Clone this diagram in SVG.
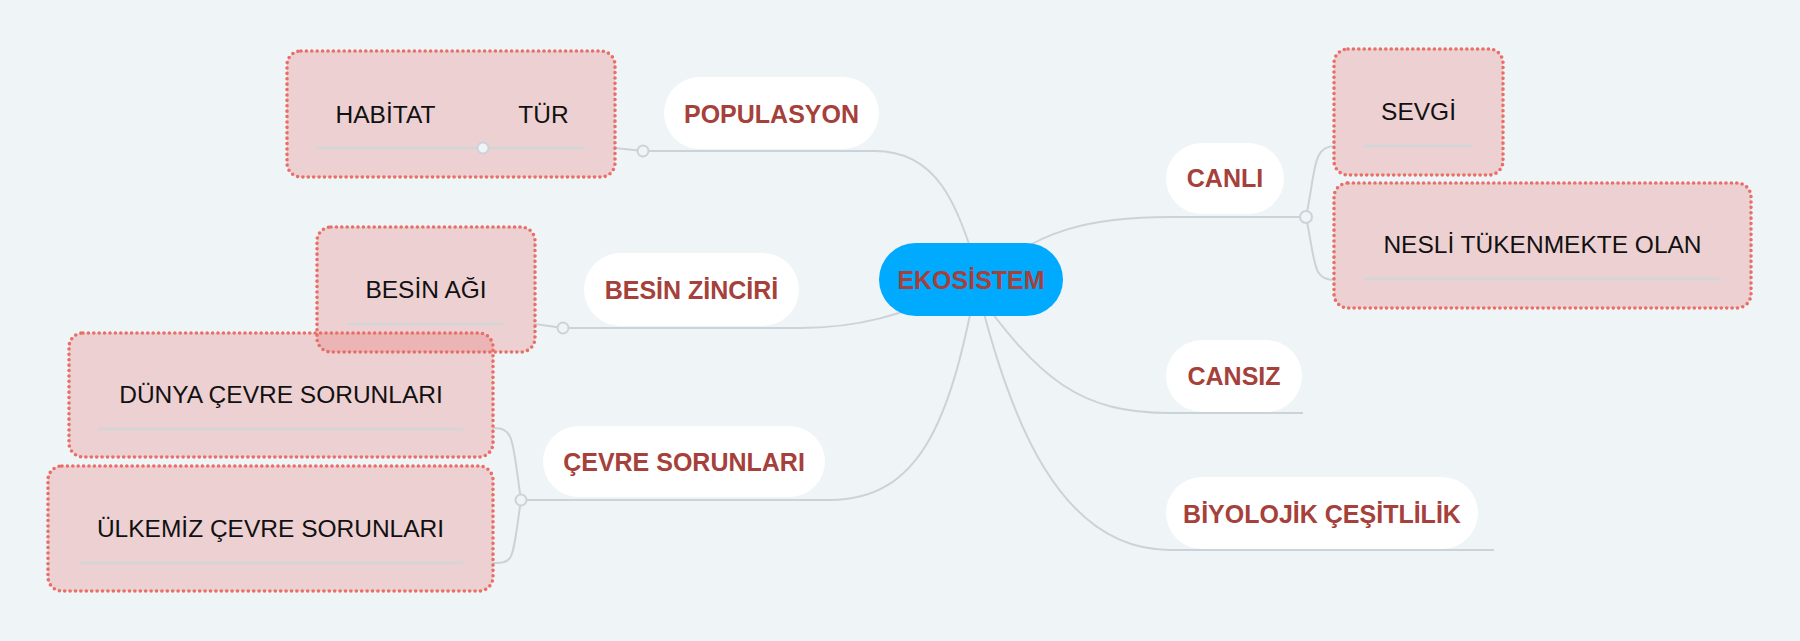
<svg xmlns="http://www.w3.org/2000/svg" width="1800" height="641" viewBox="0 0 1800 641">
<style>
.bg{fill:#eff4f7}
.conn{fill:none;stroke:#ccd3d8;stroke-width:2}
.dot{fill:#eff4f7;stroke:#ccd3d8;stroke-width:2}
.pill{fill:#ffffff}
.center{fill:#00aaff}
.box{fill:rgb(232,110,106);fill-opacity:0.27;stroke:#e96e68;stroke-width:3.6;stroke-dasharray:0 5.4;stroke-linecap:round}
.uline{stroke:#d2d6d8;stroke-width:2.5}
.bt{font-family:"Liberation Sans",Arial,sans-serif;font-weight:bold;font-size:25px;fill:#a5403a;text-anchor:middle}
.rt{font-family:"Liberation Sans",Arial,sans-serif;font-size:24.5px;fill:#111111;text-anchor:middle}
</style>
<rect class="bg" x="0" y="0" width="1800" height="641"/>
<g id="connectors">
<path class="conn" d="M980 280 C958 200 935 151 875 151 L643 151"/>
<path class="conn" d="M615 148 L643 151"/>
<path class="conn" d="M985 275 C1040 230 1090 217 1170 217 L1306 217"/>
<path class="conn" d="M1306 217 C1316 170 1312 146 1335 146"/>
<path class="conn" d="M1306 217 C1316 264 1312 280 1335 280"/>
<path class="conn" d="M960 290 C900 315 860 328 800 328 L563 328"/>
<path class="conn" d="M535 324 L563 328"/>
<path class="conn" d="M975 290 C950 420 920 500 830 500 L521 500"/>
<path class="conn" d="M521 500 C512 440 515 428 493 428"/>
<path class="conn" d="M521 500 C512 560 515 563 493 563"/>
<path class="conn" d="M975 290 C1040 380 1080 413 1170 413 L1303 413"/>
<path class="conn" d="M978 290 C1010 420 1060 550 1170 550 L1494 550"/>
</g>
<g id="node-ekosistem">
<rect class="center" x="879" y="243" width="184" height="73" rx="36.5"/>
<text class="bt" x="971" y="289">EKOSİSTEM</text>
</g>
<g id="node-populasyon">
<rect class="pill" x="664" y="77" width="215" height="72" rx="36"/>
<text class="bt" x="771.5" y="123">POPULASYON</text>
</g>
<g id="node-habitat-tur">
<rect class="box" x="287" y="51" width="328" height="126" rx="14"/>
<text class="rt" x="385.5" y="123">HABİTAT</text>
<text class="rt" x="543.5" y="123">TÜR</text>
<line class="uline" x1="317" y1="148" x2="585" y2="148"/>
<circle class="dot" cx="483" cy="148" r="5.5"/>
</g>
<circle class="dot" cx="643" cy="151" r="5.5"/>
<g id="node-besin-zinciri">
<rect class="pill" x="584" y="253" width="215" height="73" rx="36.5"/>
<text class="bt" x="691.5" y="299">BESİN ZİNCİRİ</text>
</g>
<g id="node-besin-agi">
<rect class="box" x="317" y="227" width="218" height="125" rx="14"/>
<text class="rt" x="426" y="298">BESİN AĞI</text>
<line class="uline" x1="347" y1="324" x2="504" y2="324"/>
</g>
<circle class="dot" cx="563" cy="328" r="5.5"/>
<g id="node-cevre-sorunlari">
<rect class="pill" x="543" y="426" width="282" height="71" rx="35.5"/>
<text class="bt" x="684" y="471">ÇEVRE SORUNLARI</text>
</g>
<g id="node-dunya">
<rect class="box" x="69" y="333" width="424" height="124" rx="14"/>
<text class="rt" x="281" y="403">DÜNYA ÇEVRE SORUNLARI</text>
<line class="uline" x1="98" y1="429" x2="463" y2="429"/>
</g>
<g id="node-ulkemiz">
<rect class="box" x="48" y="466" width="445" height="125" rx="14"/>
<text class="rt" x="270.5" y="537">ÜLKEMİZ ÇEVRE SORUNLARI</text>
<line class="uline" x1="79" y1="563" x2="463" y2="563"/>
</g>
<circle class="dot" cx="521" cy="500" r="5.5"/>
<g id="node-canli">
<rect class="pill" x="1166" y="143" width="118" height="71" rx="35.5"/>
<text class="bt" x="1225" y="187">CANLI</text>
</g>
<circle class="dot" cx="1306" cy="217" r="6"/>
<g id="node-sevgi">
<rect class="box" x="1334" y="49" width="169" height="126" rx="14"/>
<text class="rt" x="1418.5" y="120">SEVGİ</text>
<line class="uline" x1="1364" y1="146" x2="1473" y2="146"/>
</g>
<g id="node-nesli">
<rect class="box" x="1334" y="183" width="417" height="125" rx="14"/>
<text class="rt" x="1542.5" y="253">NESLİ TÜKENMEKTE OLAN</text>
<line class="uline" x1="1364" y1="279" x2="1721" y2="279"/>
</g>
<g id="node-cansiz">
<rect class="pill" x="1166" y="340" width="136" height="72" rx="36"/>
<text class="bt" x="1234" y="385">CANSIZ</text>
</g>
<g id="node-biyolojik">
<rect class="pill" x="1166" y="477" width="312" height="72" rx="36"/>
<text class="bt" x="1322" y="523">BİYOLOJİK ÇEŞİTLİLİK</text>
</g>
</svg>
